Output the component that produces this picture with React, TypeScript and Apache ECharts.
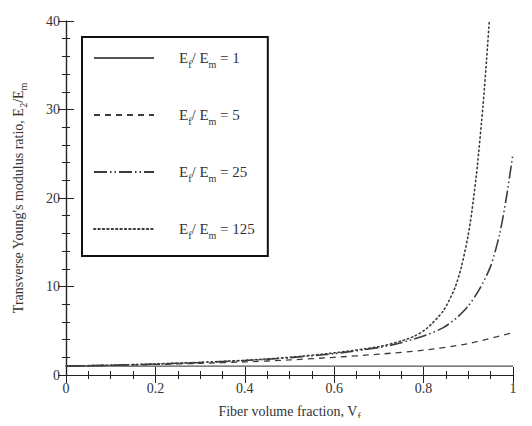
import { useEffect, useRef } from "react";
import * as echarts from "echarts";

const FONT = "Liberation Serif";

// modulus ratios Ef/Em, one curve each
const ratios = ["1", "5", "25", "125"];

// fiber volume fraction (x) and transverse modulus ratio E2/Em (y)
const vfR1 = [0, 1];
const e2R1 = [1, 1];

const vfR5 = [0, 0.1, 0.2, 0.3, 0.4, 0.5, 0.6, 0.7, 0.8, 0.9, 1.0];
const e2R5 = [1, 1.09, 1.19, 1.32, 1.48, 1.7, 2.0, 2.35, 2.8, 3.55, 4.8];

const vfR25 = [0, 0.1, 0.2, 0.3, 0.4, 0.5, 0.6, 0.7, 0.75, 0.8, 0.844, 0.875, 0.9, 0.925, 0.95, 0.97, 0.985, 1.0];
const e2R25 = [1, 1.1, 1.24, 1.41, 1.63, 1.95, 2.42, 3.1, 3.65, 4.4, 5.35, 6.5, 7.8, 9.7, 12.3, 15.9, 20.0, 25];

const vfR125 = [0, 0.1, 0.2, 0.3, 0.4, 0.5, 0.6, 0.7, 0.75, 0.78, 0.807, 0.844, 0.87, 0.884, 0.899, 0.908, 0.92, 0.933, 0.941, 0.947];
const e2R125 = [1, 1.11, 1.25, 1.43, 1.66, 2.0, 2.5, 3.2, 3.85, 4.4, 5.26, 7.24, 9.84, 12.1, 15.6, 18.5, 23.5, 30.5, 35.7, 40];

const zip = (xs: number[], ys: number[]) => xs.map((x, i) => [x, ys[i]]);

const sub = {
  fontFamily: FONT,
  fontSize: 10,
  lineHeight: 10,
  verticalAlign: "bottom",
  color: "#333",
};

const App = () => {
  const chartRef = useRef<HTMLDivElement>(null);

  useEffect(() => {
    const chart = echarts.init(chartRef.current, null, { renderer: "svg" });

    const lineColor = "#3c3c3c";
    const tickStyle = { color: "#222", width: 1 };

    const xCommon = {
      type: "value",
      min: 0,
      max: 1,
      interval: 0.2,
      splitLine: { show: false },
      axisLine: { show: true, lineStyle: { color: "#222", width: 1.2 } },
      axisTick: { show: true, inside: true, length: 8, lineStyle: tickStyle },
      minorTick: { show: true, splitNumber: 4, length: 4, lineStyle: tickStyle },
    };
    const yCommon = {
      type: "value",
      min: 0,
      max: 40,
      interval: 10,
      splitLine: { show: false },
      axisLine: { show: true, lineStyle: { color: "#222", width: 1.2 } },
      axisTick: { show: true, inside: true, length: 8, lineStyle: tickStyle },
      minorTick: { show: true, splitNumber: 5, length: 4, lineStyle: tickStyle },
    };

    const options = {
      animation: false,
      grid: { left: 62, right: 19, top: 21, bottom: 44 },
      xAxis: [
        {
          ...xCommon,
          position: "bottom",
          name: "Fiber volume fraction, V{sub|f}",
          nameLocation: "middle",
          nameGap: 26,
          nameTextStyle: {
            fontFamily: FONT,
            fontSize: 14,
            color: "#333",
            lineHeight: 20,
            rich: { sub },
          },
          axisLabel: { fontFamily: FONT, fontSize: 14, color: "#333", margin: 6 },
        },
        {
          ...xCommon,
          position: "top",
          axisLabel: { show: false },
        },
      ],
      yAxis: [
        {
          ...yCommon,
          position: "left",
          name: "Transverse Young's modulus ratio, E{sub|2}/E{sub|m}",
          nameLocation: "middle",
          nameGap: 38,
          nameTextStyle: {
            fontFamily: FONT,
            fontSize: 14,
            color: "#333",
            lineHeight: 20,
            rich: { sub },
          },
          axisLabel: { fontFamily: FONT, fontSize: 14, color: "#333", margin: 6 },
        },
        {
          ...yCommon,
          position: "right",
          axisLabel: { show: false },
        },
      ],
      legend: {
        orient: "vertical",
        left: 82,
        top: 37,
        padding: [10, 13, 16, 11],
        borderColor: "#111",
        borderWidth: 2,
        itemWidth: 60,
        itemHeight: 14,
        itemGap: 35,
        itemStyle: { opacity: 0 },
        data: ratios,
        formatter: (name: string) => `E{sub|f}/ E{sub|m} = ${name}`,
        textStyle: {
          fontFamily: FONT,
          fontSize: 15,
          color: "#333",
          lineHeight: 22,
          padding: [0, 0, 0, 20],
          rich: { sub },
        },
      },
      series: [
        {
          name: ratios[0],
          type: "line",
          data: zip(vfR1, e2R1),
          symbol: "none",
          lineStyle: { color: "#555", width: 1.1, type: "solid" },
          itemStyle: { color: "#555" },
        },
        {
          name: ratios[1],
          type: "line",
          data: zip(vfR5, e2R5),
          symbol: "none",
          smooth: 0.25,
          lineStyle: { color: lineColor, width: 1.3, type: [6, 5] },
          itemStyle: { color: lineColor },
        },
        {
          name: ratios[2],
          type: "line",
          data: zip(vfR25, e2R25),
          symbol: "none",
          smooth: 0.25,
          lineStyle: { color: lineColor, width: 1.6, type: [13, 3, 1.5, 3, 1.5, 3] },
          itemStyle: { color: lineColor },
        },
        {
          name: ratios[3],
          type: "line",
          data: zip(vfR125, e2R125),
          symbol: "none",
          smooth: 0.25,
          lineStyle: { color: lineColor, width: 1.6, type: [1.4, 3], cap: "round" },
          itemStyle: { color: lineColor },
        },
      ],
    };

    chart.setOption(options);

    return () => {
      chart.dispose();
    };
  }, []);

  return <div ref={chartRef} style={{ width: 532, height: 426, margin: -8 }} />;
};

export default App;
